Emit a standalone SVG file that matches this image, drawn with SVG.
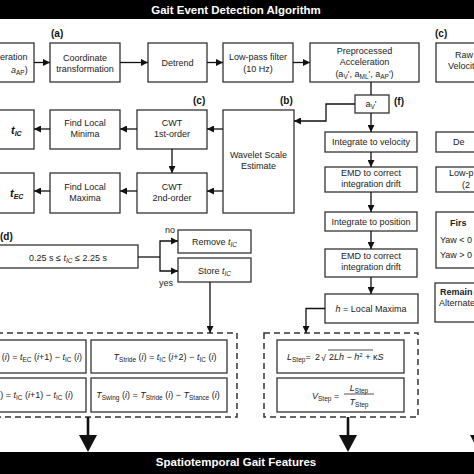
<svg xmlns="http://www.w3.org/2000/svg" width="474" height="474" viewBox="0 0 474 474">
<defs>
<marker id="ah" viewBox="0 0 10 10" refX="10" refY="5" markerWidth="7" markerHeight="7" markerUnits="userSpaceOnUse" orient="auto"><path d="M0,0 L10,5 L0,10 z" fill="#111"/></marker>
</defs>
<style>
.box{fill:#fff;stroke:#333;stroke-width:1.3}
.dash{fill:none;stroke:#333;stroke-width:1.5;stroke-dasharray:6 4}
text{font-family:"Liberation Sans",Arial,sans-serif;font-size:9px;fill:#222}
.c{text-anchor:middle}
.e{text-anchor:end}
.b{font-weight:bold}
.i{font-style:italic}
.lbl{font-weight:bold;font-size:10px;fill:#111}
.hdr{font-weight:bold;font-size:11.5px;fill:#fff;text-anchor:middle}
.ev{font-weight:bold;font-style:italic;font-size:11px;fill:#111}
.s{font-size:6.5px}
.conn{fill:none;stroke:#111;stroke-width:1.3}
.big{fill:none;stroke:#111;stroke-width:2.6}
.head{fill:#111}
</style>
<rect width="474" height="474" fill="#fff"/>

<g id="title"><rect x="0" y="0" width="474" height="19" fill="#000"/><text class="hdr" x="236" y="14">Gait Event Detection Algorithm</text></g>
<g id="footer"><rect x="0" y="452" width="474" height="22" fill="#000"/><text class="hdr" x="236" y="466">Spatiotemporal Gait Features</text></g>

<g id="labels">
<text class="lbl" x="51" y="37">(a)</text>
<text class="lbl" x="435" y="37">(c)</text>
<text class="lbl" x="193" y="104">(c)</text>
<text class="lbl" x="280" y="104">(b)</text>
<text class="lbl" x="394" y="105">(f)</text>
<text class="lbl" x="0" y="240">(d)</text>
<text x="165" y="233">no</text>
<text x="159" y="286">yes</text>
</g>

<g id="raw-acc"><rect class="box" x="-2" y="43" width="36" height="39"/><text x="0" y="60">eration</text><text x="11" y="73"><tspan class="i">a</tspan><tspan class="s" dy="2">AP</tspan><tspan dy="-2">)</tspan></text></g>
<g id="coord"><rect class="box" x="50" y="43" width="70" height="39"/><text class="c" x="85" y="61">Coordinate</text><text class="c" x="85" y="72">transformation</text></g>
<g id="detrend"><rect class="box" x="148" y="43" width="59" height="39"/><text class="c" x="177.5" y="66">Detrend</text></g>
<g id="lowpass"><rect class="box" x="223" y="43" width="70" height="39"/><text class="c" x="258" y="60">Low-pass filter</text><text class="c" x="258" y="72">(10 Hz)</text></g>
<g id="preproc"><rect class="box" x="310" y="43" width="109" height="39"/><text class="c" x="364.5" y="54">Preprocessed</text><text class="c" x="364.5" y="65">Acceleration</text><text class="c" x="364.5" y="77">(a<tspan class="s" dy="2">V</tspan><tspan dy="-2">', a</tspan><tspan class="s" dy="2">ML</tspan><tspan dy="-2">', a</tspan><tspan class="s" dy="2">AP</tspan><tspan dy="-2">')</tspan></text></g>
<g id="raw-vel"><rect class="box" x="436" y="43" width="50" height="39"/><text x="455" y="58">Raw</text><text x="448" y="69">Velocit</text></g>

<g id="av"><rect class="box" x="355" y="95" width="34" height="18"/><text class="c" x="371" y="107">a<tspan class="s" dy="2">V</tspan><tspan dy="-2">'</tspan></text></g>
<g id="wavelet"><rect class="box" x="223" y="110" width="71" height="103"/><text class="c" x="258.5" y="158">Wavelet Scale</text><text class="c" x="258.5" y="169">Estimate</text></g>
<g id="cwt1"><rect class="box" x="137" y="110" width="70" height="39"/><text class="c" x="172" y="126">CWT</text><text class="c" x="172" y="137">1st-order</text></g>
<g id="findmin"><rect class="box" x="50" y="110" width="70" height="39"/><text class="c" x="85" y="126">Find Local</text><text class="c" x="85" y="137">Minima</text></g>
<g id="tic"><rect class="box" x="-2" y="110" width="36" height="39"/><text class="ev" x="11" y="134">t<tspan font-size="7" dy="2">IC</tspan></text></g>
<g id="cwt2"><rect class="box" x="137" y="173" width="70" height="40"/><text class="c" x="172" y="190">CWT</text><text class="c" x="172" y="201">2nd-order</text></g>
<g id="findmax"><rect class="box" x="50" y="173" width="70" height="40"/><text class="c" x="85" y="190">Find Local</text><text class="c" x="85" y="201">Maxima</text></g>
<g id="tec"><rect class="box" x="-2" y="173" width="36" height="40"/><text class="ev" x="10" y="197">t<tspan font-size="7" dy="2">EC</tspan></text></g>

<g id="intvel"><rect class="box" x="325" y="132" width="92" height="20"/><text class="c" x="371" y="145">Integrate to velocity</text></g>
<g id="emd1"><rect class="box" x="325" y="167" width="92" height="25"/><text class="c" x="371" y="176">EMD to correct</text><text class="c" x="371" y="187">integration drift</text></g>
<g id="intpos"><rect class="box" x="325" y="212" width="92" height="19"/><text class="c" x="371" y="225">Integrate to position</text></g>
<g id="emd2"><rect class="box" x="325" y="249" width="92" height="28"/><text class="c" x="371" y="259">EMD to correct</text><text class="c" x="371" y="270">integration drift</text></g>
<g id="hmax"><rect class="box" x="325" y="294" width="93" height="29"/><text class="c" x="371" y="312"><tspan class="i">h</tspan> = Local Maxima</text></g>

<g id="de"><rect class="box" x="436" y="132" width="50" height="20"/><text x="453" y="145">De</text></g>
<g id="lowp2"><rect class="box" x="436" y="167" width="50" height="25"/><text x="449" y="176">Low-p</text><text x="462" y="188">(2</text></g>
<g id="first"><rect class="box" x="436" y="212" width="50" height="56"/><text class="b" x="450" y="226">Firs</text><text x="440" y="243">Yaw &lt; 0</text><text x="440" y="258">Yaw &gt; 0</text></g>
<g id="remain"><rect class="box" x="435" y="283" width="50" height="39"/><text class="b" x="440" y="295">Remain</text><text x="439" y="306">Alternate</text></g>

<g id="cond"><rect class="box" x="-2" y="245" width="140" height="23"/><text class="c" x="68" y="261">0.25 s ≤ <tspan class="i">t</tspan><tspan class="s i" dy="2">IC</tspan><tspan dy="-2"> ≤ 2.25 s</tspan></text></g>
<g id="remove"><rect class="box" x="178" y="230" width="73" height="23"/><text class="c" x="214.5" y="245">Remove <tspan class="i">t</tspan><tspan class="s i" dy="2">IC</tspan></text></g>
<g id="store"><rect class="box" x="178" y="258" width="73" height="24"/><text class="c" x="214.5" y="274">Store <tspan class="i">t</tspan><tspan class="s i" dy="2">IC</tspan></text></g>

<g id="temporal">
<rect class="dash" x="-3" y="333" width="240" height="84"/>
<rect class="box" x="-2" y="340" width="88" height="33"/>
<rect class="box" x="91" y="340" width="136" height="33"/>
<rect class="box" x="-2" y="378" width="88" height="34"/>
<rect class="box" x="91" y="378" width="136" height="34"/>
<text class="e" x="82" y="360">(<tspan class="i">i</tspan>) = <tspan class="i">t</tspan><tspan class="s" dy="2">EC</tspan><tspan dy="-2"> (</tspan><tspan class="i">i</tspan>+1) − <tspan class="i">t</tspan><tspan class="s" dy="2">IC</tspan><tspan dy="-2"> (</tspan><tspan class="i">i</tspan>)</text>
<text class="c" x="165" y="360"><tspan class="i">T</tspan><tspan class="s" dy="2">Stride</tspan><tspan dy="-2"> (</tspan><tspan class="i">i</tspan>) = <tspan class="i">t</tspan><tspan class="s" dy="2">IC</tspan><tspan dy="-2"> (</tspan><tspan class="i">i</tspan>+2) − <tspan class="i">t</tspan><tspan class="s" dy="2">IC</tspan><tspan dy="-2"> (</tspan><tspan class="i">i</tspan>)</text>
<text class="e" x="73" y="398">) = <tspan class="i">t</tspan><tspan class="s" dy="2">IC</tspan><tspan dy="-2"> (</tspan><tspan class="i">i</tspan>+1) − <tspan class="i">t</tspan><tspan class="s" dy="2">IC</tspan><tspan dy="-2"> (</tspan><tspan class="i">i</tspan>)</text>
<text class="c" x="158" y="398"><tspan class="i">T</tspan><tspan class="s" dy="2">Swing</tspan><tspan dy="-2"> (</tspan><tspan class="i">i</tspan>) = <tspan class="i">T</tspan><tspan class="s" dy="2">Stride</tspan><tspan dy="-2"> (</tspan><tspan class="i">i</tspan>) − <tspan class="i">T</tspan><tspan class="s" dy="2">Stance</tspan><tspan dy="-2"> (</tspan><tspan class="i">i</tspan>)</text>
</g>

<g id="spatial">
<rect class="dash" x="264" y="333" width="154" height="84"/>
<rect class="box" x="277" y="340" width="127" height="33"/>
<rect class="box" x="277" y="378" width="127" height="34"/>
<text x="287" y="360"><tspan class="i">L</tspan><tspan class="s" dy="2">Step</tspan><tspan dy="-2">=</tspan></text>
<text x="315" y="360">2</text>
<text x="321" y="361" font-size="12">√</text>
<line x1="328" y1="350" x2="373" y2="350" stroke="#222" stroke-width="0.8"/>
<text x="329" y="360">2<tspan class="i">Lh</tspan> − <tspan class="i">h</tspan><tspan font-size="6" dy="-3">2</tspan><tspan dy="3"> + κ</tspan><tspan class="i">S</tspan></text>
<text x="312" y="399"><tspan class="i">V</tspan><tspan class="s" dy="2">Step</tspan><tspan dy="-2"> =</tspan></text>
<text class="c" x="359" y="391"><tspan class="i">L</tspan><tspan class="s" dy="2">Step</tspan></text>
<line x1="344" y1="394" x2="374" y2="394" stroke="#222" stroke-width="0.8"/>
<text class="c" x="359" y="405"><tspan class="i">T</tspan><tspan class="s" dy="2">Step</tspan></text>
</g>

<g id="connectors">
<line class="conn" x1="34" y1="62.5" x2="50" y2="62.5" marker-end="url(#ah)"/>
<line class="conn" x1="120" y1="62.5" x2="148" y2="62.5" marker-end="url(#ah)"/>
<line class="conn" x1="207" y1="62.5" x2="223" y2="62.5" marker-end="url(#ah)"/>
<line class="conn" x1="293" y1="62.5" x2="310" y2="62.5" marker-end="url(#ah)"/>
<line class="conn" x1="371" y1="82" x2="371" y2="95"/>
<polyline class="conn" points="355,104 326,104 326,121 294,121" marker-end="url(#ah)"/>
<line class="conn" x1="371" y1="113" x2="371" y2="132" marker-end="url(#ah)"/>
<line class="conn" x1="371" y1="152" x2="371" y2="167" marker-end="url(#ah)"/>
<line class="conn" x1="371" y1="192" x2="371" y2="212" marker-end="url(#ah)"/>
<line class="conn" x1="371" y1="231" x2="371" y2="249" marker-end="url(#ah)"/>
<line class="conn" x1="371" y1="277" x2="371" y2="294" marker-end="url(#ah)"/>
<polyline class="conn" points="325,308.5 306,308.5 306,333" marker-end="url(#ah)"/>
<line class="conn" x1="223" y1="129" x2="207" y2="129" marker-end="url(#ah)"/>
<line class="conn" x1="137" y1="129" x2="120" y2="129" marker-end="url(#ah)"/>
<line class="conn" x1="50" y1="129" x2="34" y2="129" marker-end="url(#ah)"/>
<line class="conn" x1="172" y1="149" x2="172" y2="173" marker-end="url(#ah)"/>
<line class="conn" x1="223" y1="191" x2="207" y2="191" marker-end="url(#ah)"/>
<line class="conn" x1="137" y1="191" x2="120" y2="191" marker-end="url(#ah)"/>
<line class="conn" x1="50" y1="191" x2="34" y2="191" marker-end="url(#ah)"/>
<line class="conn" x1="138" y1="257" x2="160" y2="257"/>
<polyline class="conn" points="178,241 160,241 160,271 178,271"/>
<path class="head" d="M171,237.5 L178,241 L171,244.5 z"/>
<path class="head" d="M171,267.5 L178,271 L171,274.5 z"/>
<line class="conn" x1="210" y1="282" x2="210" y2="333" marker-end="url(#ah)"/>
<line class="big" x1="88" y1="417" x2="88" y2="437"/>
<path class="head" d="M79,435 L97,435 L88,452 z"/>
<line class="big" x1="348" y1="417" x2="348" y2="437"/>
<path class="head" d="M339,435 L357,435 L348,452 z"/>
<path class="head" d="M470,435 L488,435 L479,452 z"/>
</g>
</svg>
